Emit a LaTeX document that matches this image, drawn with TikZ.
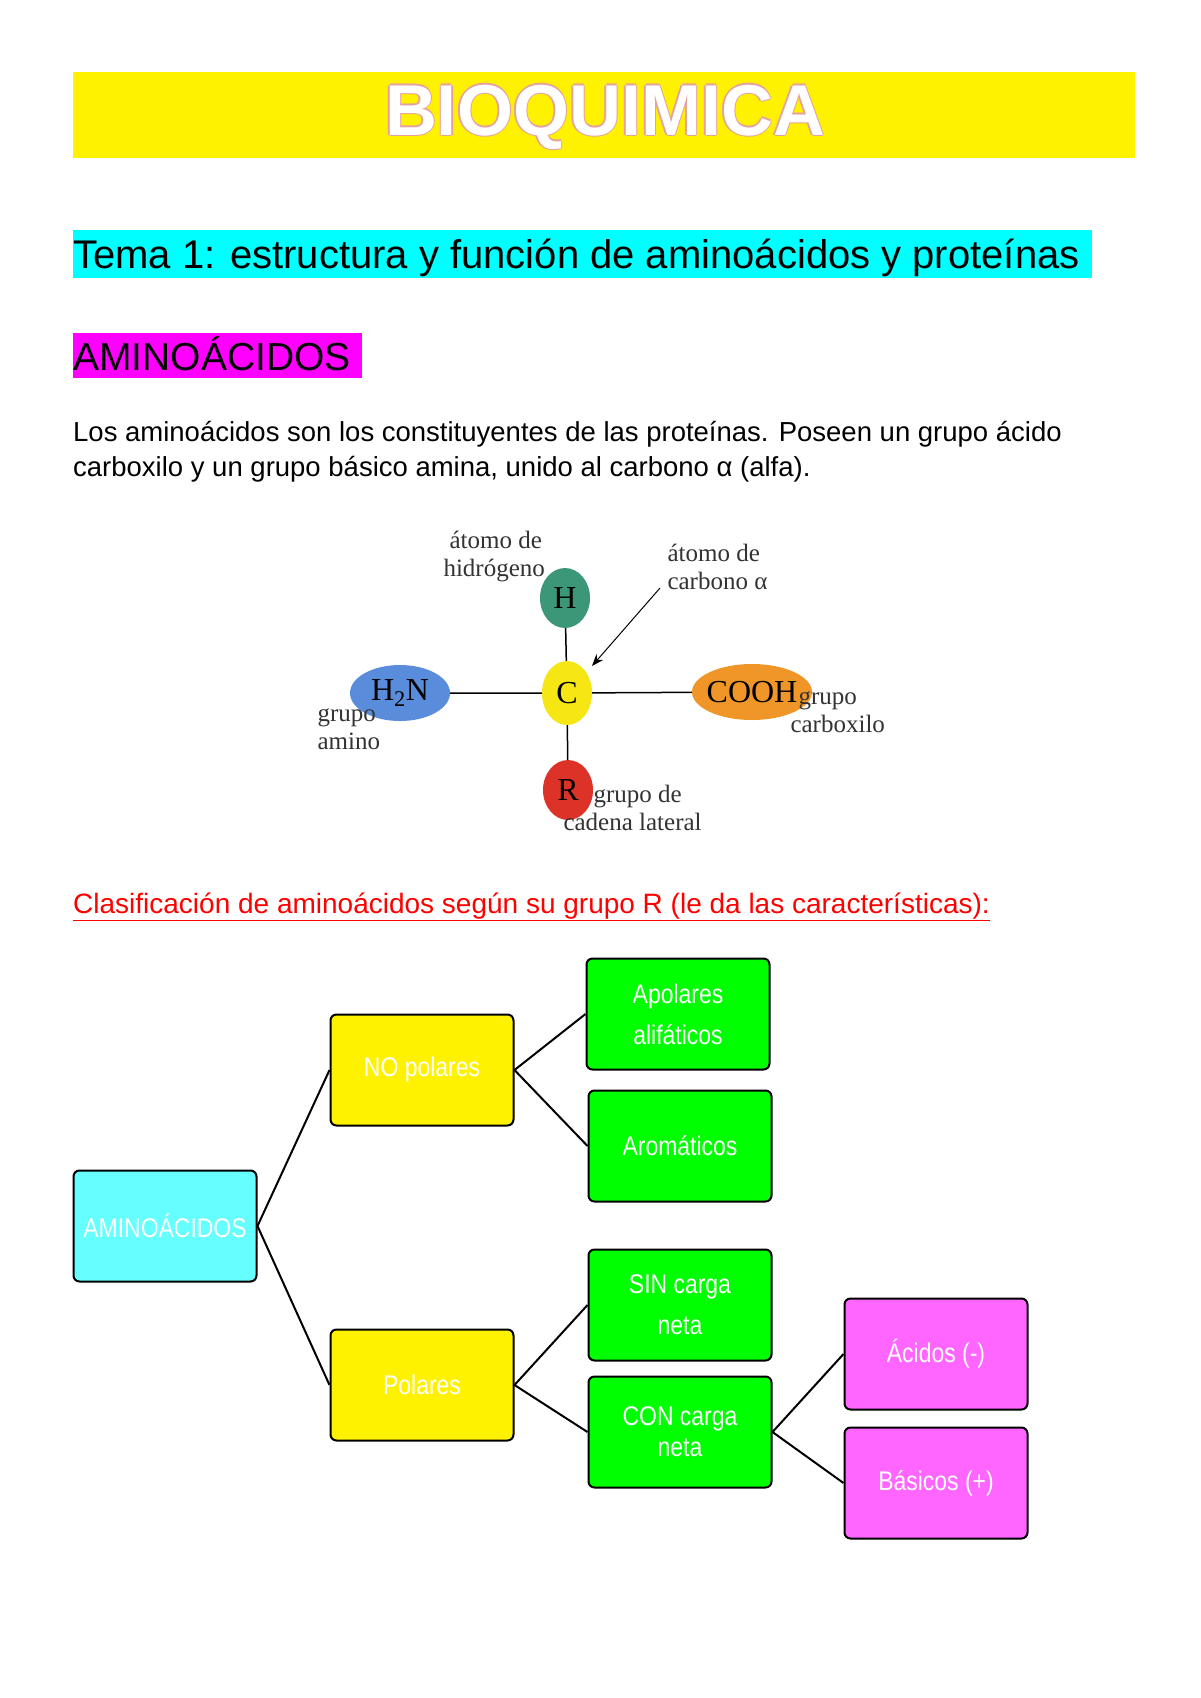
\documentclass[tikz,border=0pt]{standalone}
\usepackage{fontspec}
\setmainfont{Liberation Sans}
\newfontfamily\serifont{Liberation Serif}
\newfontfamily\narrowfont[FakeStretch=0.85]{Liberation Sans}
\usetikzlibrary{arrows.meta,shapes.geometric}
\definecolor{cyanb}{RGB}{0,255,255}
\definecolor{magb}{RGB}{255,0,255}
\definecolor{boxcyan}{RGB}{102,255,255}
\definecolor{boxgreen}{RGB}{0,255,0}
\definecolor{boxpink}{RGB}{255,102,255}
\definecolor{teal2}{RGB}{60,150,120}
\definecolor{blue2}{RGB}{90,140,220}
\definecolor{orange2}{RGB}{240,150,40}
\definecolor{red2}{RGB}{220,50,40}
\definecolor{yel2}{RGB}{245,230,20}
\definecolor{outl}{RGB}{230,160,160}
\begin{document}
\begin{tikzpicture}[x=1pt,y=-1pt,
  tb/.style={draw=black,line width=2pt,rounded corners=6pt,minimum width=183pt,minimum height=111pt,align=center,text=white,font=\narrowfont\fontsize{27}{41}\selectfont},
  con/.style={line width=2pt},
  atom/.style={ellipse,inner sep=0pt},
  ttl/.style={font=\fontsize{72}{72}\selectfont\bfseries},
  mol/.style={font=\serifont\fontsize{32}{32}\selectfont},
  lbl/.style={font=\serifont\fontsize{25}{28}\selectfont,align=left,text=black!80}]
\useasboundingbox (0,0) rectangle (1200,1698);
\fill[white] (0,0) rectangle (1200,1698);
% banners
\fill[yellow] (73,72) rectangle (1135,158);
\foreach \dx/\dy in {-1.5/0,1.5/0,0/-1.5,0/1.5}
  \node[ttl,text=outl] at (605+\dx,117+\dy) {BIOQUIMICA};
\node[ttl,text=white] (title) at (605,117) {BIOQUIMICA};
\fill[cyanb] (73,230) rectangle (1092,278);
\node[anchor=base west,inner sep=0pt,font=\fontsize{40}{42}\selectfont] (tema) at (73,268) {Tema 1: estructura y función de aminoácidos y proteínas};
\fill[magb] (73,333) rectangle (362,378);
\node[anchor=base west,inner sep=0pt,font=\fontsize{39}{42}\selectfont] (amin) at (73,370) {AMINOÁCIDOS};
\node[anchor=base west,inner sep=0pt,font=\fontsize{27.5}{30}\selectfont] (p1) at (73,441) {Los aminoácidos son los constituyentes de las proteínas. Poseen un grupo ácido};
\node[anchor=base west,inner sep=0pt,font=\fontsize{27.5}{30}\selectfont] (p2) at (73,476) {carboxilo y un grupo básico amina, unido al carbono α (alfa).};
% molecule
\node[atom,fill=yel2,minimum width=50pt,minimum height=64pt] (C) at (567,693) {};
\node[atom,fill=teal2,minimum width=50pt,minimum height=60pt] (H) at (565,598) {};
\node[atom,fill=blue2,minimum width=100pt,minimum height=56pt] (N) at (400,693) {};
\node[atom,fill=orange2,minimum width=120pt,minimum height=56pt] (O) at (752,692) {};
\node[atom,fill=red2,minimum width=50pt,minimum height=60pt] (R) at (568,790) {};
\draw[line width=1.5pt] (H) -- (C) (N) -- (C) (C) -- (O) (C) -- (R);
\node[mol] at (C) {C};
\node[mol] at (H) {H};
\node[mol] at (N) {H\textsubscript{2}N};
\node[mol] at (O) {COOH};
\node[mol] at (R) {R};
\node[lbl,anchor=north west] (lh) at (440,528) {\hspace*{6pt}átomo de\\hidrógeno};
\node[lbl,anchor=north west] (lc) at (664,541) {átomo de\\carbono α};
\node[lbl,anchor=north west] (la) at (314,705) {grupo\\amino};
\node[lbl,anchor=north west] (lo) at (787,688) {\hspace*{8pt}grupo\\carboxilo};
\node[lbl,anchor=north west] (lr) at (560,782) {\hspace*{30pt}grupo de\\cadena lateral};
\coordinate (ar1) at (660,588);
\coordinate (ar2) at (592,666);
\draw[-{Stealth[length=12pt]},line width=1pt] (ar1) -- (ar2);
% heading
\node[anchor=base west,inner sep=0pt,text=red,font=\fontsize{28}{30}\selectfont] (cl) at (73,913) {\underline{Clasificación de aminoácidos según su grupo R (le da las características):}};
% tree
\node[tb,fill=boxcyan] (A) at (165,1226) {AMINOÁCIDOS};
\node[tb,fill=yellow] (NP) at (422,1070) {NO polares};
\node[tb,fill=yellow] (P) at (422,1385) {Polares};
\node[tb,fill=boxgreen] (AP) at (678,1014) {Apolares\\alifáticos};
\node[tb,fill=boxgreen] (AR) at (680,1146) {Aromáticos};
\node[tb,fill=boxgreen] (SC) at (680,1305) {SIN carga\\neta};
\node[tb,fill=boxgreen,font=\narrowfont\fontsize{27}{31}\selectfont] (CC) at (680,1432) {CON carga\\neta};
\node[tb,fill=boxpink] (AC) at (936,1354) {Ácidos (-)};
\node[tb,fill=boxpink] (BA) at (936,1483) {Básicos (+)};
\draw[con] (A.east) -- (NP.west);
\draw[con] (A.east) -- (P.west);
\draw[con] (NP.east) -- (AP.west);
\draw[con] (NP.east) -- (AR.west);
\draw[con] (P.east) -- (SC.west);
\draw[con] (P.east) -- (CC.west);
\draw[con] (CC.east) -- (AC.west);
\draw[con] (CC.east) -- (BA.west);
\end{tikzpicture}
\end{document}
